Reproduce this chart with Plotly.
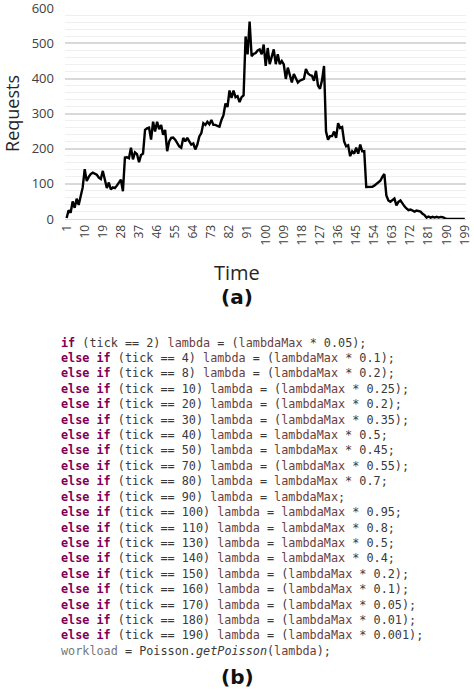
import plotly.graph_objects as go

# requests per time tick
ticks = list(range(1, 200))
requests = [
    3, 25, 18, 50, 32, 58, 40, 62, 90, 142,
    108, 120, 128, 132, 130, 126, 118, 114, 137, 110,
    88, 104, 84, 90, 88, 95, 104, 112, 79, 175,
    176, 173, 203, 170, 190, 185, 162, 182, 186, 254,
    258, 260, 226, 277, 249, 277, 256, 268, 240, 254,
    193, 221, 231, 232, 226, 215, 207, 203, 231, 221,
    231, 221, 212, 215, 198, 212, 235, 245, 273, 268,
    277, 270, 282, 268, 268, 265, 263, 282, 296, 329,
    319, 366, 345, 366, 347, 350, 333, 347, 352, 520,
    469, 562, 464, 470, 473, 480, 483, 469, 497, 436,
    487, 441, 460, 483, 441, 469, 441, 450, 440, 399,
    431, 410, 389, 413, 400, 389, 394, 396, 399, 427,
    415, 410, 408, 394, 422, 380, 371, 395, 436, 249,
    226, 236, 236, 249, 231, 273, 259, 262, 221, 207,
    210, 179, 193, 186, 203, 186, 212, 193, 193, 91,
    91, 91, 92, 95, 100, 104, 109, 120, 128, 67,
    53, 49, 55, 58, 39, 49, 53, 44, 36, 30,
    25, 27, 25, 21, 24, 22, 21, 15, 11, 4,
    7, 4, 6, 4, 6, 4, 6, 5, 2, 0,
    0, 0, 0, 0, 0, 0, 0, 0, 0,
]
tick_labels = list(range(1, 200, 9))

code_steps = [
    (2, "(lambdaMax * 0.05)"), (4, "(lambdaMax * 0.1)"), (8, "(lambdaMax * 0.2)"),
    (10, "(lambdaMax * 0.25)"), (20, "(lambdaMax * 0.2)"), (30, "(lambdaMax * 0.35)"),
    (40, "lambdaMax * 0.5"), (50, "lambdaMax * 0.45"), (70, "(lambdaMax * 0.55)"),
    (80, "lambdaMax * 0.7"), (90, "lambdaMax"), (100, "lambdaMax * 0.95"),
    (110, "lambdaMax * 0.8"), (130, "lambdaMax * 0.5"), (140, "lambdaMax * 0.4"),
    (150, "(lambdaMax * 0.2)"), (160, "(lambdaMax * 0.1)"), (170, "(lambdaMax * 0.05)"),
    (180, "(lambdaMax * 0.01)"), (190, "(lambdaMax * 0.001)"),
]

KW = "#7F0055"
VAR = "#6A3E3E"
TXT = "#3a3a3a"

TOP, BOT, LEFT, RIGHT = 8, 471, 65, 8

fig = go.Figure()
fig.add_trace(go.Scatter(
    x=ticks, y=requests, mode="lines",
    line=dict(color="black", width=2.4),
    showlegend=False, hoverinfo="skip",
))

fig.update_layout(
    width=474, height=690,
    margin=dict(l=LEFT, r=RIGHT, t=TOP, b=BOT, autoexpand=False),
    paper_bgcolor="white", plot_bgcolor="white",
    font=dict(family="Open Sans, DejaVu Sans, sans-serif", color="#595959"),
    xaxis=dict(
        range=[0.2, 199.6], tickmode="array", tickvals=tick_labels,
        ticktext=[str(t) for t in tick_labels], tickangle=-90,
        tickfont=dict(size=12, color="#404040"), showgrid=False,
        showline=True, linecolor="#d9d9d9", zeroline=False, ticks="",
        automargin=False, ticklabeloverflow="allow",
    ),
    yaxis=dict(
        range=[0, 601], tickmode="array", tickvals=[0, 100, 200, 300, 400, 500, 600],
        tickfont=dict(size=13, color="#404040"), automargin=False,
        ticklabeloverflow="allow",
        showgrid=True, gridcolor="#d9d9d9", gridwidth=1.5, zeroline=False,
        ticklabelstandoff=10,
        minor=dict(dtick=20, showgrid=True, gridcolor="#efefef", gridwidth=1),
        title=dict(text="Requests", font=dict(size=18, color="#262626"), standoff=12),
    ),
)

def colour(s, c, bold=False):
    s = f"<span style='color:{c}'>{s}</span>"
    return f"<b>{s}</b>" if bold else s

def fmt_expr(expr):
    return expr.replace("lambdaMax", colour("lambdaMax", VAR))

lines = []
for i, (t, expr) in enumerate(code_steps):
    kw = "if" if i == 0 else "else if"
    lines.append(
        colour(kw, KW, True) + colour(f" (tick == {t}) ", TXT)
        + colour("lambda", VAR) + colour(" = ", TXT) + fmt_expr(expr) + colour(";", TXT)
    )
lines.append(
    colour("workload", "#777777") + colour(" = Poisson.", TXT)
    + "<i>" + colour("getPoisson", TXT) + "</i>" + colour("(", TXT)
    + colour("lambda", VAR) + colour(");", TXT)
)

annotations = [
    dict(text="Time", x=0.5, y=272, xref="paper", yref="paper", showarrow=False,
         font=dict(size=20, color="#262626")),
    dict(text="<b>(a)</b>", x=0.5, y=297, xref="paper", yref="paper", showarrow=False,
         font=dict(size=20, color="#111111", family="DejaVu Sans, sans-serif")),
    dict(text="<b>(b)</b>", x=0.5, y=677, xref="paper", yref="paper", showarrow=False,
         font=dict(size=20, color="#111111", family="DejaVu Sans, sans-serif")),
]
for i, ln in enumerate(lines):
    annotations.append(dict(
        text=ln, x=59, y=342.7 + i * 15.4, xanchor="left", showarrow=False,
        xref="paper", yref="paper",
        font=dict(size=11.8, family="DejaVu Sans Mono, monospace", color=TXT),
    ))

# convert pixel positions to paper coordinates
plot_w = 474 - LEFT - RIGHT
plot_h = 690 - TOP - BOT
for a in annotations:
    if a["x"] != 0.5:
        a["x"] = (a["x"] - LEFT) / plot_w
    else:
        a["x"] = (237 - LEFT) / plot_w
    a["y"] = (690 - BOT - a["y"]) / plot_h
    a["yanchor"] = "middle"
fig.update_layout(annotations=annotations)

fig.write_html("out.html", config={"displayModeBar": False},
               post_script="document.body.style.margin='0';")
